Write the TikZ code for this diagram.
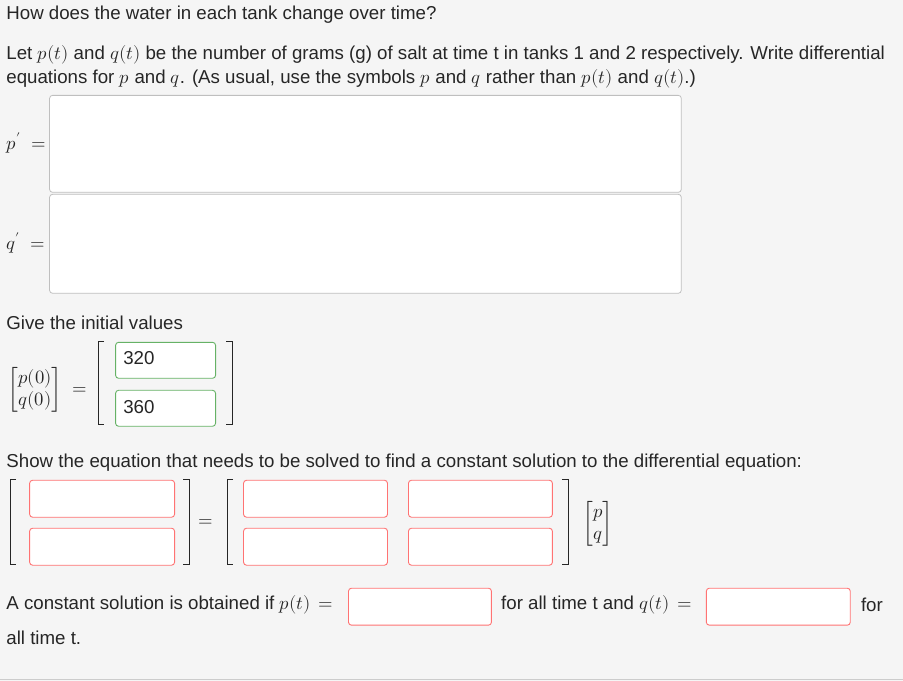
\documentclass[tikz,border=0pt]{standalone}
\usepackage{fontspec}
\setmainfont{Liberation Sans}
\usepackage{amsmath}
\usepackage{unicode-math}
\setmathfont{Latin Modern Math}
\begin{document}
\begin{tikzpicture}[x=1pt,y=-1pt,
  txt/.style={anchor=west,inner sep=0pt,font=\fontsize{18.7}{22}\selectfont,text=black!85},
  bigbox/.style={draw=black!25,fill=white,rounded corners=3pt,line width=0.8pt,anchor=north west,inner sep=0pt},
  okbox/.style={draw=green!50!black!60,fill=white,rounded corners=3pt,line width=0.9pt,anchor=north west,inner sep=0pt},
  badbox/.style={draw=red!55,fill=white,rounded corners=3pt,line width=0.9pt,anchor=north west,inner sep=0pt},
  brk/.style={line width=0.9pt,black!85}]
\fill[black!4] (0,0) rectangle (903,681);
\draw[black!20] (0,679) -- (903,679);
\node[txt] (t1) at (6,15) {How does the water in each tank change over time?};
\node[txt] (t2) at (6,55) {Let $p(t)$ and $q(t)$ be the number of grams (g) of salt at time t in tanks 1 and 2 respectively. Write differential};
\node[txt] (t3) at (6,79) {equations for $p$ and $q$. (As usual, use the symbols $p$ and $q$ rather than $p(t)$ and $q(t)$.)};
\node[txt] (pl) at (6,143) {$p'\;=$};
\node[bigbox,minimum width=632pt,minimum height=97pt] (b1) at (49,95) {};
\node[txt] (ql) at (6,243) {$q'\;=$};
\node[bigbox,minimum width=632pt,minimum height=99pt] (b2) at (49,194) {};
\node[txt] (t4) at (6,323) {Give the initial values};
\node[txt] (pq0) at (8,390) {$\begin{bmatrix}p(0)\\q(0)\end{bmatrix}\;=$};
\draw[brk] (104,342) -- (98,342) -- (98,425) -- (104,425);
\draw[brk] (226,342) -- (232,342) -- (232,425) -- (226,425);
\node[okbox,minimum width=100pt,minimum height=36pt] (i1) at (115,342) {};
\node[txt] at (123,358) {320};
\node[okbox,minimum width=100pt,minimum height=36pt] (i2) at (115,390) {};
\node[txt] at (123,407) {360};
\node[txt] (t5) at (6,463) {Show the equation that needs to be solved to find a constant solution to the differential equation:};
\draw[brk] (16,480) -- (10,480) -- (10,565) -- (16,565);
\draw[brk] (183,480) -- (189,480) -- (189,565) -- (183,565);
\node[badbox,minimum width=145pt,minimum height=37pt] (c1) at (29,480) {};
\node[badbox,minimum width=145pt,minimum height=37pt] (c2) at (29,528) {};
\node[txt] (eq) at (198,523) {$=$};
\draw[brk] (233,480) -- (227,480) -- (227,565) -- (233,565);
\draw[brk] (562,480) -- (568,480) -- (568,565) -- (562,565);
\node[badbox,minimum width=144pt,minimum height=37pt] (m1) at (243,480) {};
\node[badbox,minimum width=144pt,minimum height=37pt] (m2) at (408,480) {};
\node[badbox,minimum width=144pt,minimum height=37pt] (m3) at (243,528) {};
\node[badbox,minimum width=144pt,minimum height=37pt] (m4) at (408,528) {};
\node[txt] (v) at (583,524) {$\begin{bmatrix}p\\q\end{bmatrix}$};
\node[txt] (t6) at (6,605) {A constant solution is obtained if $p(t)\,=$};
\node[badbox,minimum width=143pt,minimum height=37pt] (s1) at (348,588) {};
\node[txt] (t7) at (501,605) {for all time t and $q(t)\,=$};
\node[badbox,minimum width=144pt,minimum height=37pt] (s2) at (706,588) {};
\node[txt] (t8) at (861,605) {for};
\node[txt] (t9) at (6,638) {all time t.};
\end{tikzpicture}
\end{document}
